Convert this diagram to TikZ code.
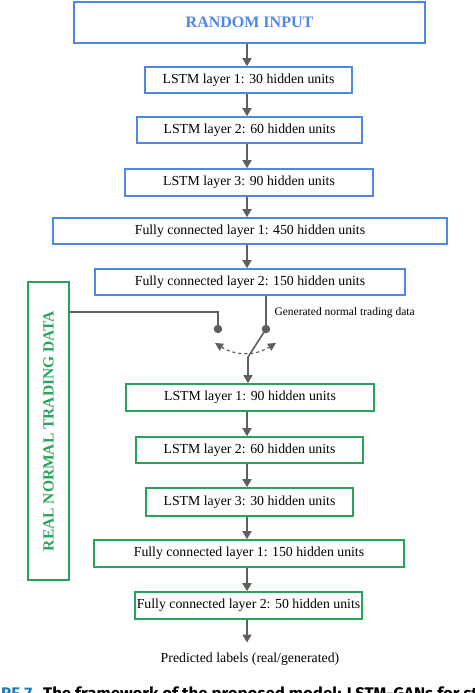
\documentclass[tikz,border=0pt]{standalone}
\usepackage{fontspec}
\setmainfont{Liberation Serif}
\newfontfamily\capfont{Fira Sans}
\usepackage{xcolor}
\usetikzlibrary{arrows.meta}

\definecolor{genblue}{HTML}{4F87E6}
\definecolor{disgreen}{HTML}{27A35C}
\definecolor{wiregray}{HTML}{5F5F5F}
\definecolor{capblue}{HTML}{1F7BC1}

\tikzset{
    genbox/.style={draw=genblue, line width=1.6pt, inner sep=0pt,
        font=\fontsize{13.8}{16}\selectfont},
    disbox/.style={draw=disgreen, line width=1.6pt, inner sep=0pt,
        font=\fontsize{13.8}{16}\selectfont},
    wire/.style={draw=wiregray, line width=1.6pt},
    flow/.style={wire, -{Triangle[length=8pt,width=9pt]}},
    tap/.style={circle, fill=wiregray, inner sep=0pt, minimum size=8.5pt}
}

\begin{document}
\begin{tikzpicture}[x=1pt,y=-1pt]
    \useasboundingbox (0,0) rectangle (474,693);
    % generator
    \node[genbox, minimum width=351pt, minimum height=41pt, text=genblue,
        font=\fontsize{16}{19}\selectfont\bfseries] (input) at (249.5,22.5) {RANDOM INPUT};
    \node[genbox, minimum width=207pt, minimum height=26pt] (g1) at (248.5,80) {LSTM layer 1: 30 hidden units};
    \node[genbox, minimum width=225pt, minimum height=26pt] (g2) at (249.5,130) {LSTM layer 2: 60 hidden units};
    \node[genbox, minimum width=248pt, minimum height=27pt] (g3) at (249,182.5) {LSTM layer 3: 90 hidden units};
    \node[genbox, minimum width=394pt, minimum height=26pt] (g4) at (250,231) {Fully connected layer 1: 450 hidden units};
    \node[genbox, minimum width=310pt, minimum height=26pt] (g5) at (250,282) {Fully connected layer 2: 150 hidden units};
    \draw[flow] (input.south -| 247,0) -- (g1.north -| 247,0);
    \draw[flow] (g1.south -| 247,0) -- (g2.north -| 247,0);
    \draw[flow] (g2.south -| 247,0) -- (g3.north -| 247,0);
    \draw[flow] (g3.south -| 247,0) -- (g4.north -| 247,0);
    \draw[flow] (g4.south -| 247,0) -- (g5.north -| 247,0);

    % real data
    \node[draw=disgreen, line width=1.6pt, minimum width=41pt, minimum height=298pt] (real) at (48.5,431) {};
    \node[rotate=90, text=disgreen, font=\fontsize{15.5}{18}\selectfont\bfseries] (reallabel) at (real.center) {REAL NORMAL TRADING DATA};

    % switch
    \node[tap] (realtap) at (218,329) {};
    \node[tap] (gentap) at (266,329) {};
    \coordinate (realturn) at (218,312);
    \coordinate (pivot) at (248,357);
    \coordinate (swingl) at (215,343);
    \coordinate (swingr) at (276,343);
    \draw[wire] (real.east |- realturn) -- (realturn) -- (realtap.center);
    \draw[wire] (g5.south -| gentap) -- (gentap.center);
    \draw[wire] (gentap.center) -- (pivot);
    \draw[wire, line width=1.2pt, dashed, {Triangle[length=8pt,width=8pt]}-{Triangle[length=8pt,width=8pt]}]
        (swingl) .. controls (236,356) and (255,356) .. (swingr);
    \node[anchor=west, font=\fontsize{11.5}{13}\selectfont] (genlabel) at (271,313) {Generated normal trading data};

    % discriminator
    \node[disbox, minimum width=248pt, minimum height=27pt] (d1) at (250,397.5) {LSTM layer 1: 90 hidden units};
    \node[disbox, minimum width=227pt, minimum height=26pt] (d2) at (249.5,450) {LSTM layer 2: 60 hidden units};
    \node[disbox, minimum width=207pt, minimum height=28pt] (d3) at (249.5,502) {LSTM layer 3: 30 hidden units};
    \node[disbox, minimum width=310pt, minimum height=27pt] (d4) at (249,553.5) {Fully connected layer 1: 150 hidden units};
    \node[disbox, minimum width=227pt, minimum height=27pt] (d5) at (248.5,605.5) {Fully connected layer 2: 50 hidden units};
    \node[font=\fontsize{13.8}{16}\selectfont, inner sep=3pt] (output) at (250,659) {Predicted labels (real/generated)};
    \draw[flow] (pivot) -- (d1.north -| pivot);
    \draw[flow] (d1.south -| 247,0) -- (d2.north -| 247,0);
    \draw[flow] (d2.south -| 247,0) -- (d3.north -| 247,0);
    \draw[flow] (d3.south -| 247,0) -- (d4.north -| 247,0);
    \draw[flow] (d4.south -| 247,0) -- (d5.north -| 247,0);
    \draw[flow] (d5.south -| 247,0) -- ([yshift=7pt]output.north -| 247,0);

    % caption, cut off by the page edge
    \begin{scope}
        \clip (0,0) rectangle (474,693);
        \node[anchor=north east, inner sep=0pt, text=capblue, font=\capfont\fontsize{16.8}{20}\selectfont\bfseries] (figno) at (35,687) {FIGURE 7.};
        \node[anchor=north west, inner sep=0pt, font=\capfont\fontsize{16.8}{20}\selectfont\bfseries] (caption) at (43,687) {The framework of the proposed model: LSTM-GANs for st};
    \end{scope}
\end{tikzpicture}
\end{document}
